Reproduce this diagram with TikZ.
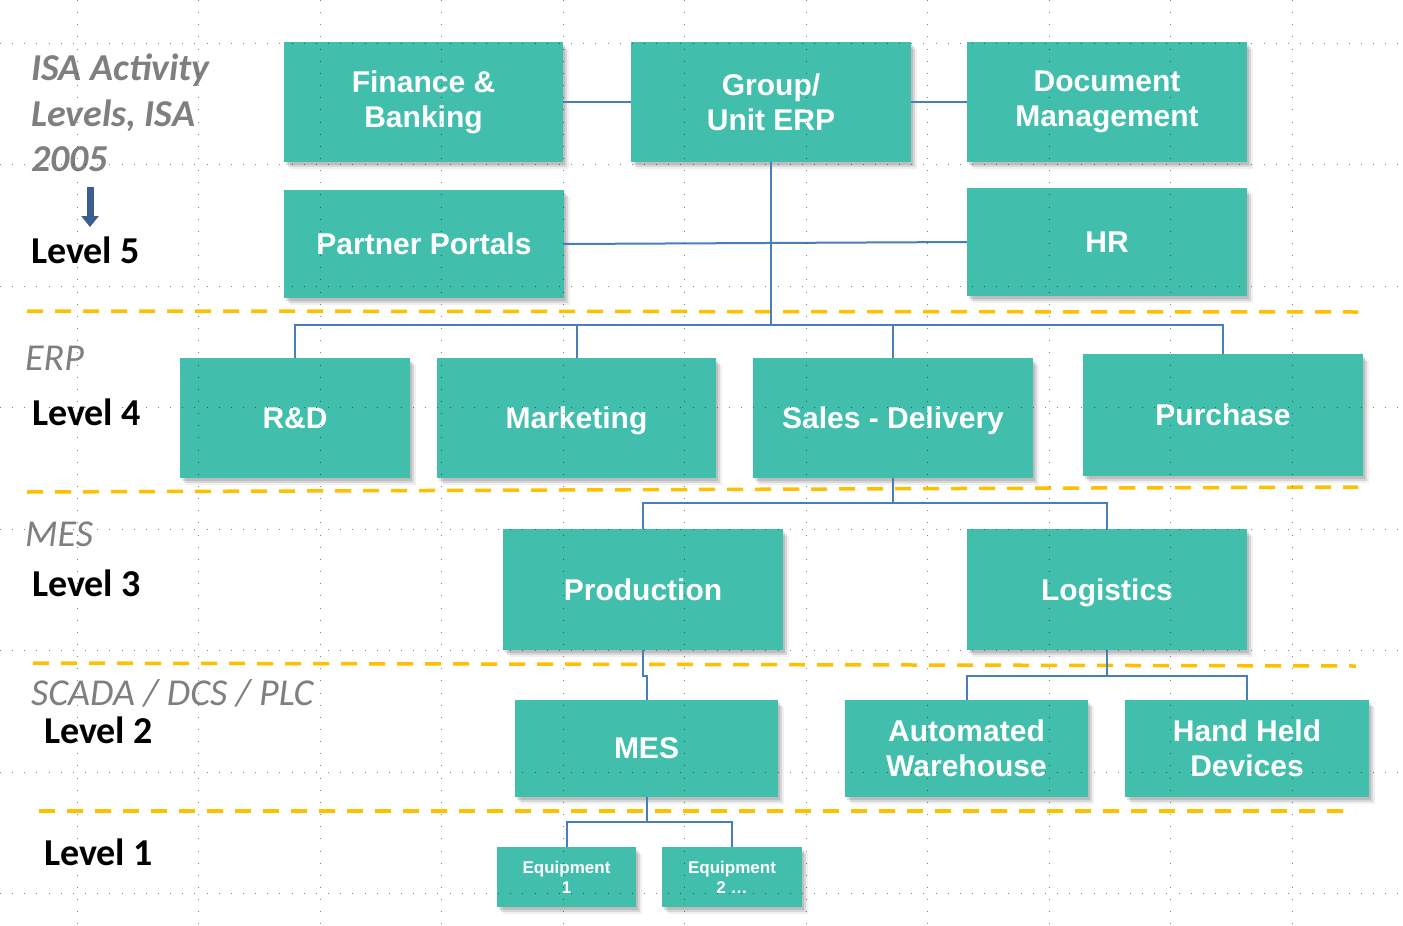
\documentclass[tikz,border=0pt]{standalone}
\usepackage{fontspec}
\setmainfont{Liberation Sans}
\newfontfamily\calibri{Carlito}
\usepackage{tikz}
\usetikzlibrary{arrows.meta,shadows}
\definecolor{boxteal}{HTML}{41BFAC}
\definecolor{linkblue}{HTML}{4A7EBB}
\definecolor{levelorange}{HTML}{FFC000}
\definecolor{labelgray}{HTML}{7F7F7F}
\definecolor{arrowblue}{HTML}{3B5E8F}

\begin{document}
\begin{tikzpicture}[x=1pt,y=-1pt,
    box/.style={fill=boxteal, text=white, align=center, inner sep=0pt,
      font=\bfseries\fontsize{30}{35}\selectfont,
      drop shadow={shadow xshift=2pt, shadow yshift=-3pt, opacity=0.12, fill=black},
      drop shadow={shadow xshift=4pt, shadow yshift=-5pt, opacity=0.10, fill=black},
      drop shadow={shadow xshift=6pt, shadow yshift=-7pt, opacity=0.06, fill=black}},
    oneline/.style={box, text depth=0pt},
    smallbox/.style={box, font=\bfseries\fontsize{17}{20}\selectfont},
    link/.style={draw=linkblue, line width=2pt},
    levelline/.style={draw=levelorange, line width=3.5pt, dash pattern=on 16pt off 12pt},
    gridline/.style={draw=black, opacity=0.5, line width=1pt, dash pattern=on 1pt off 11.15pt},
    levellabel/.style={anchor=base west, inner sep=0pt, font=\calibri\bfseries\fontsize{38}{44}\selectfont},
    layerlabel/.style={anchor=base west, inner sep=0pt, text=labelgray, font=\calibri\itshape\fontsize{38}{44}\selectfont}]
  \useasboundingbox[fill=white] (0,0) rectangle (1403,926);

  % level separators
  \draw[levelline] (27,311) -- (1358,312);
  \draw[levelline] (27,492) -- (1358,487);
  \draw[levelline] (33,663) -- (1356,666);
  \draw[levelline] (39,811) -- (1355,811);

  % left column
  \node[layerlabel, font=\calibri\bfseries\itshape\fontsize{38}{44}\selectfont] (isa1) at (31,80) {ISA Activity};
  \node[layerlabel, font=\calibri\bfseries\itshape\fontsize{38}{44}\selectfont] (isa2) at (31,126) {Levels, ISA};
  \node[layerlabel, font=\calibri\bfseries\itshape\fontsize{38}{44}\selectfont] (isa3) at (31,171) {2005};
  \draw[arrowblue, line width=7pt, -{Triangle[width=17pt,length=11pt]}] (90,187) -- (90,227);
  \node[levellabel] (lv5) at (31,263) {Level 5};
  \node[layerlabel] (erp) at (25,370) {ERP};
  \node[levellabel] (lv4) at (32,425) {Level 4};
  \node[layerlabel] (mesl) at (25,546) {MES};
  \node[levellabel] (lv3) at (32,596) {Level 3};
  \node[layerlabel] (scada) at (31,705) {SCADA / DCS / PLC};
  \node[levellabel] (lv2) at (44,743) {Level 2};
  \node[levellabel] (lv1) at (44,865) {Level 1};

  % level 5
  \node[box, minimum width=279pt, minimum height=120pt] (fin) at (423.5,102) {Finance \&\\Banking};
  \node[box, minimum width=280pt, minimum height=120pt] (grp) at (771,102) {Group/\\Unit ERP};
  \node[box, minimum width=280pt, minimum height=120pt] (doc) at (1107,102) {Document\\Management};
  \node[oneline, minimum width=280pt, minimum height=108pt] (portal) at (424,244) {Partner Portals};
  \node[oneline, minimum width=280pt, minimum height=108pt] (hr) at (1107,242) {HR};

  % level 4
  \node[oneline, minimum width=230pt, minimum height=120pt] (rnd) at (295,418) {R\&D};
  \node[oneline, minimum width=279pt, minimum height=120pt] (mkt) at (576.5,418) {Marketing};
  \node[oneline, minimum width=280pt, minimum height=120pt] (sales) at (893,418) {Sales - Delivery};
  \node[oneline, minimum width=280pt, minimum height=122pt] (purch) at (1223,415) {Purchase};

  % level 3
  \node[oneline, minimum width=280pt, minimum height=121pt] (prod) at (643,589.5) {Production};
  \node[oneline, minimum width=280pt, minimum height=121pt] (logi) at (1107,589.5) {Logistics};

  % level 2
  \node[oneline, minimum width=263pt, minimum height=97pt] (mes) at (646.5,748.5) {MES};
  \node[box, minimum width=243pt, minimum height=97pt] (auto) at (966.5,748.5) {Automated\\Warehouse};
  \node[box, minimum width=244pt, minimum height=97pt] (hand) at (1247,748.5) {Hand Held\\Devices};

  % level 1
  \node[smallbox, minimum width=139pt, minimum height=60pt] (eq1) at (566.5,877) {Equipment\\1};
  \node[smallbox, minimum width=140pt, minimum height=60pt] (eq2) at (732,877) {Equipment\\2 …};

  % connections
  \draw[link] (fin.east) -- (grp.west);
  \draw[link] (grp.east) -- (doc.west);
  \draw[link] (portal.east) -- (hr.west);
  \foreach \n in {rnd,mkt,sales,purch}
    \draw[link] (grp.south) -- ++(0,163) -| (\n.north);
  \foreach \n in {prod,logi}
    \draw[link] (sales.south) -- ++(0,25) -| (\n.north);
  \draw[link] (prod.south) -- ++(0,26) -| (mes.north);
  \foreach \n in {auto,hand}
    \draw[link] (logi.south) -- ++(0,26) -| (\n.north);
  \foreach \n in {eq1,eq2}
    \draw[link] (mes.south) -- ++(0,25) -| (\n.north);

  % slide grid
  \foreach \gx in {0,...,10}
    \draw[gridline] ({77+121.5*\gx},0) -- ++(0,926);
  \foreach \gy in {0,...,7}
    \draw[gridline] (0,{43+121.5*\gy}) -- ++(1403,0);
\end{tikzpicture}
\end{document}
